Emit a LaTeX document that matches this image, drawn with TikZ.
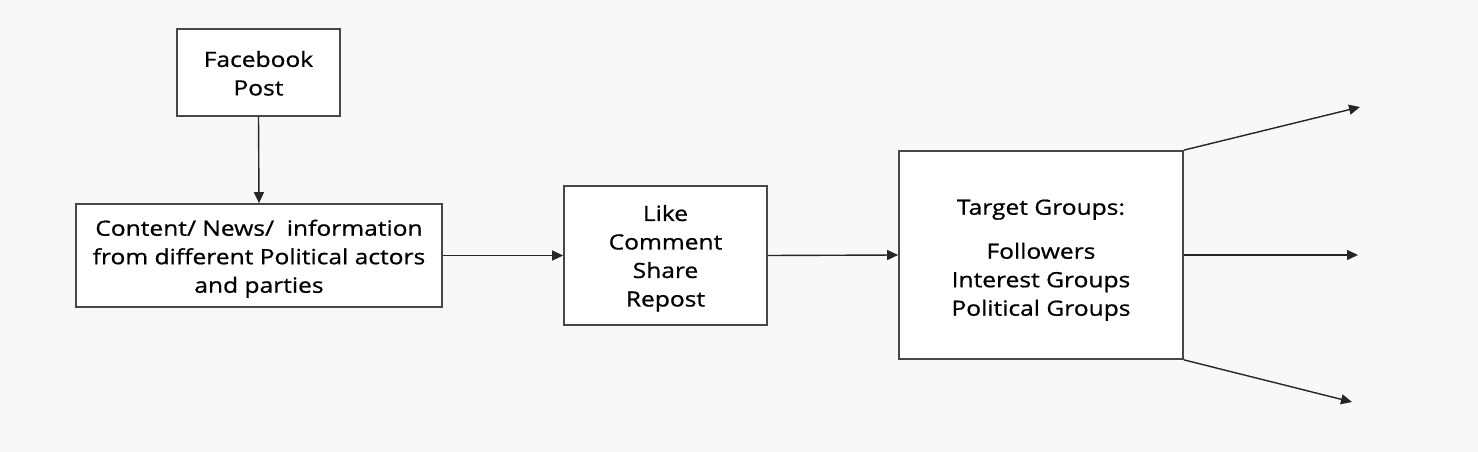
\documentclass[tikz,border=0pt]{standalone}
\usepackage{fontspec}
\setmainfont{Open Sans}[FakeStretch=1.17, FakeBold=0.8]
\usetikzlibrary{arrows.meta}
\definecolor{bg}{HTML}{F8F8F8}
\definecolor{edge}{HTML}{474747}
\newcommand{\lift}[1]{\rule{0pt}{#1}}
\begin{document}
\begin{tikzpicture}[x=1pt,y=-1pt,
  box/.style={draw=edge, line width=1.7pt, fill=white, align=center, inner sep=0pt,
    font=\fontsize{21}{28.5}\selectfont, text=black},
  conn/.style={draw=black!85, line width=1.4pt, -{Triangle[length=11pt,width=10pt]}}]
\fill[bg] (0,0) rectangle (1478,452);
\useasboundingbox (0,0) rectangle (1478,452);
\node[box, minimum width=163pt, minimum height=87pt] (fb) at (258.5,72.5) {\lift{17.5pt}Facebook\\Post};
\node[box, minimum width=366pt, minimum height=103pt] (content) at (259,255.5) {\lift{22.5pt}Content/ News/\ \ information\\from different Political actors\\and parties};
\node[box, minimum width=203pt, minimum height=139pt] (like) at (665.5,255.5) {\lift{21.5pt}Like\\Comment\\Share\\Repost};
\node[box, minimum width=284pt, minimum height=208pt] (target) at (1041,255) {\lift{25.5pt}Target Groups:\\[15.5pt]Followers\\Interest Groups\\Political Groups};
\coordinate (o1) at (1360,107);
\coordinate (o2) at (1358,255);
\coordinate (o3) at (1352,402);
\draw[conn] (fb.south) -- (content.north);
\draw[conn] (content.east) -- (like.west);
\draw[conn] (like.east) -- (target.west);
\draw[conn] (target.north east) -- (o1);
\draw[conn] (target.east) -- (o2);
\draw[conn] (target.south east) -- (o3);
\end{tikzpicture}
\end{document}
